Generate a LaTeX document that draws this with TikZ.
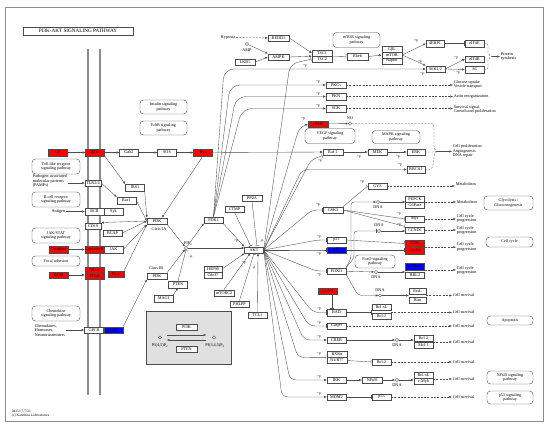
\documentclass[tikz,border=0pt]{standalone}
\usepackage{fontspec}
\setmainfont{Liberation Serif}
\usetikzlibrary{arrows.meta,calc}
\newcommand\kgfont{\fontsize{4.2}{4.6}\selectfont}
\newcommand\kpwfont{\fontsize{4.1}{4.5}\selectfont}
\newcommand\klfont{\fontsize{4.2}{4.5}\selectfont}
\newcommand\kppfont{\fontsize{3.6}{3.8}\selectfont}
\newcommand\kttfont{\fontsize{5.2}{5.2}\selectfont}
\tikzset{
  g/.style={draw=black!70, line width=0.35pt, fill=white, minimum width=19pt, minimum height=6.5pt, inner sep=0pt, font=\kgfont},
  gr/.style={g, fill=red},
  gb/.style={g, fill=blue},
  pw/.style={draw=black!70, line width=0.4pt, rounded corners=3.5pt, fill=white, minimum width=47pt, minimum height=14pt, inner sep=0pt, align=center, font=\kpwfont},
  lbl/.style={font=\klfont, inner sep=0.6pt, align=left},
  pp/.style={font=\kppfont, inner sep=0pt},
  con/.style={draw=black!70, line width=0.35pt},
  ar/.style={con, -{Latex[length=2.6pt,width=2.2pt]}},
  inh/.style={con, -{Bar[width=4.5pt]}, shorten >=0.6pt},
  dl/.style={con, dash pattern=on 2pt off 1.3pt},
  da/.style={dl, -{Latex[length=2.6pt,width=2.2pt]}},
  cir/.style={circle, draw=black!70, line width=0.35pt, fill=white, minimum size=3.2pt, inner sep=0pt},
  memb/.style={draw=black!45, line width=1.5pt},
}
\begin{document}
\begin{tikzpicture}[x=1pt,y=-1pt]
\fill[white] (0,0) rectangle (550,428);
\useasboundingbox (0,0) rectangle (550,428);
\draw[black!45, line width=0.6pt] (5,7) rectangle (543,421);
\node[draw=black!70, line width=0.5pt, minimum width=110pt, minimum height=8pt, inner sep=0pt, font=\kttfont] (title) at (78,31) {PI3K-AKT SIGNALING PATHWAY};
\draw[memb] (88,49) -- (88,395);
\draw[memb] (100,49) -- (100,395);

% ---------- left: receptors ----------
\node[gr] (gf) at (57.5,152.5) {GF};
\node[gr] (rtk) at (95,152.5) {RTK};
\node[g] (gab2) at (129,152.5) {Gab2};
\node[g] (sos) at (167,152.5) {SOS};
\node[gr] (ras) at (203,152.5) {Ras};
\node[g, minimum width=16pt] (tlr) at (93,183) {TLR2/4};
\node[g] (irs1) at (135,187.5) {IRS1};
\node[g] (rac1) at (126.5,200.5) {Rac1};
\node[g] (bcr) at (94.5,211.5) {BCR};
\node[g] (syk) at (113.5,211.5) {Syk};
\node[g, minimum width=16pt] (cd19) at (93,226) {CD19};
\node[g] (bcap) at (112.5,233) {BCAP};
\node[gr] (cyt) at (58.5,249.5) {Cytokine};
\node[gr] (cytr) at (94.5,249.5) {CytokineR};
\node[g] (jak) at (113.5,249.5) {JAK};
\node[gr] (ecm) at (58.5,275) {ECM};
\node[gr, minimum height=6pt] (itga) at (94.5,270.5) {ITGA};
\node[gr, minimum height=6pt] (itgb) at (94.5,276.5) {ITGB};
\node[gr, minimum width=16pt] (fak) at (116,274) {FAK};
\node[g] (gpcr) at (94,330) {GPCR};
\node[gb] (gbg) at (113.5,330) {Gβγ};

\node[pw, minimum width=48pt, minimum height=15pt] (tollp) at (56,166.5) {Toll-like receptor\\signaling pathway};
\node[pw, minimum width=48pt, minimum height=15pt] (bcellp) at (56,199.5) {B cell receptor\\signaling pathway};
\node[pw, minimum width=48pt, minimum height=15pt] (jakp) at (56,235.5) {JAK/STAT\\signaling pathway};
\node[pw, minimum width=48pt, minimum height=10pt] (focp) at (56,261) {Focal adhesion};
\node[pw, minimum width=48pt, minimum height=15pt] (chemp) at (56,313.5) {Chemokine\\signaling pathway};
\node[pw] (insp) at (163.5,107) {Insulin signaling\\pathway};
\node[pw] (erbbp) at (163.5,128) {ErbB signaling\\pathway};

\node[lbl, anchor=west] (pamps) at (32,181) {Pathogen-associated\\molecular patterns\\(PAMPs)};
\node[lbl, anchor=east] (antigen) at (66,211.5) {Antigen};
\node[lbl, anchor=west] (chem) at (34,330.5) {Chemokines,\\Hormones,\\Neurotransmitters};
\node[lbl, anchor=west, font=\kppfont] (foot) at (11,414) {04151 7/7/21\\(c) Kanehisa Laboratories};

% ---------- top ----------
\node[lbl, anchor=east] (hyp) at (236,37.5) {Hypoxia};
\node[g, minimum width=21pt] (redd1) at (278.5,38) {REDD1};
\node[cir] (amp) at (247,44) {};
\node[lbl] (ampl) at (247,50.5) {AMP};
\node[g, minimum width=20pt] (lkb1) at (245,62) {LKB1};
\node[g, minimum width=21pt] (ampk) at (278.5,57) {AMPK};
\node[g, minimum width=20pt, minimum height=6pt] (tsc1) at (322,53) {TSC1};
\node[g, minimum width=20pt, minimum height=6pt] (tsc2) at (322,59) {TSC2};
\node[g, minimum width=21pt] (rheb) at (357.5,56.5) {Rheb};
\node[pw, minimum height=15pt] (mtorp) at (356.5,40) {mTOR signaling\\pathway};
\node[g, minimum width=20pt, minimum height=6pt] (gbl) at (392,49) {GβL};
\node[g, minimum width=20pt, minimum height=6pt] (mtor) at (392,55) {mTOR};
\node[g, minimum width=20pt, minimum height=6pt] (raptor) at (392,61) {Raptor};
\node[g, minimum width=18pt] (ebp) at (435,43.5) {4EBP1};
\node[g] (eif4e) at (474.5,43.5) {eIF4E};
\node[g] (eif4b) at (474.5,59) {eIF4B};
\node[g] (s6) at (474.5,69.5) {S6};
\node[g] (s6k) at (435.5,69) {S6K1/2};
\node[lbl, anchor=west] (protsyn) at (500,56.5) {Protein\\synthesis};
\coordinate (bt) at (492,56.5);

\node[g, minimum width=20pt] (pkc) at (336,85) {PKCs};
\node[g, minimum width=20pt] (pkn) at (336,96.5) {PKN};
\node[g, minimum width=20pt] (sgk) at (336,108.5) {SGK};
\node[lbl, anchor=west] (glu) at (453,84.5) {Glucose uptake\\Vesicle transport};
\node[lbl, anchor=west] (actin) at (453,96.5) {Actin reorganization};
\node[lbl, anchor=west] (survs) at (453,109.5) {Survival signal,\\Growth and proliferation};

\node[gr, minimum width=20pt] (enos) at (318,124) {eNOS};
\node[cir] (no) at (350,123.5) {};
\node[lbl] (nol) at (350,118.5) {NO};
\node[pw, minimum width=50pt, minimum height=15pt] (vegfp) at (330,136) {VEGF signaling\\pathway};
\node[pw, minimum width=48pt, minimum height=13pt] (mapkp) at (396,137) {MAPK signaling\\pathway};

\node[g, minimum width=20pt] (raf) at (333,152) {Raf-1};
\node[g] (mek) at (377.5,152) {MEK};
\node[g, minimum width=18pt] (erk) at (416,152) {ERK};
\node[g, minimum width=18pt] (brca) at (416,169.5) {BRCA1};
\node[lbl, anchor=west] (cellpro) at (452,151) {Cell proliferation\\Angiogenesis\\DNA repair};
\coordinate (bt2) at (437,151.5);

\node[g] (gys) at (377.5,186) {GYS};
\node[lbl, anchor=west] (met1) at (455,184.5) {Metabolism};
\node[g, minimum width=20pt] (gsk3) at (333,210) {GSK3};
\node[cir] (dna1) at (378,202) {};
\node[lbl] (dna1l) at (378,207.5) {DNA};
\node[g, minimum height=6pt] (pepck) at (415,199) {PEPCK};
\node[g, minimum height=6pt] (g6p) at (415,205) {G6Pase};
\node[lbl, anchor=west] (met2) at (456,202) {Metabolism};
\node[g] (myc) at (415,219) {Myc};
\node[g] (ccnd1) at (415,230) {CCND1};
\node[cir] (dna2) at (379,231) {};
\node[lbl] (dna2l) at (379,225.5) {DNA};
\node[gr, minimum height=7pt] (cdk) at (415,243.5) {CDK};
\node[gr, minimum height=7pt] (cyclin) at (415,250.5) {Cyclin};
\node[gb] (p27k) at (415,266.5) {p27Kip1};
\node[g, minimum height=6pt] (rbl2) at (415,275.5) {RBL2};
\node[lbl, anchor=west] (cc1) at (456,218.5) {Cell cycle\\progression};
\node[lbl, anchor=west] (cc2) at (456,230.5) {Cell cycle\\progression};
\node[lbl, anchor=west] (cc3) at (456,247) {Cell cycle\\progression};
\node[lbl, anchor=west] (cc4) at (456,270.5) {Cell cycle\\progression};
\node[g] (p21) at (336.5,240) {p21};
\node[gb] (p27) at (336.5,250) {p27};
\node[g] (foxo) at (336.5,271) {FOXO};
\node[pw, minimum width=40pt, minimum height=13pt] (foxop) at (375,261.5) {FoxO signaling\\pathway};
\node[cir] (dna3) at (376,272) {};
\node[lbl] (dna3l) at (376,277.5) {DNA};

\node[gr] (x1433) at (327.5,291) {14-3-3};
\node[cir] (dna4) at (380,295.5) {};
\node[lbl] (dna4l) at (380,290) {DNA};
\node[g, minimum width=17pt, minimum height=6pt] (fasl) at (417.5,291) {FasL};
\node[g, minimum width=17pt, minimum height=6pt] (bim) at (417.5,300) {Bim};
\node[g] (bad) at (336.5,312.5) {BAD};
\node[g, minimum height=6pt] (bclxl1) at (381.5,307) {Bcl-xL};
\node[g, minimum height=6pt] (bcl2a) at (381.5,316) {Bcl-2};
\node[g] (casp9) at (336.5,326) {Casp9};
\node[g] (creb) at (336.5,340) {CREB};
\node[cir] (dna5) at (397,340) {};
\node[lbl] (dna5l) at (397,345.5) {DNA};
\node[g, minimum height=6pt] (bcl2b) at (423.5,338) {Bcl-2};
\node[g, minimum height=6pt] (mcl1) at (423.5,345) {Mcl-1};
\node[g, minimum width=20pt, minimum height=6pt] (rxra) at (337,354.5) {RXRα};
\node[g, minimum width=20pt, minimum height=6pt] (nur77) at (337,360.5) {NUR77};
\node[g] (bcl2c) at (381.5,362) {Bcl-2};
\node[g] (ikk) at (336.5,380) {IKK};
\node[g, minimum width=20pt] (nfkb) at (372,380) {NFκB};
\node[cir] (dna6) at (397,380) {};
\node[lbl] (dna6l) at (397,385.5) {DNA};
\node[g, minimum height=6pt] (bclxl2) at (423.5,375.5) {Bcl-xL};
\node[g, minimum height=6pt] (cmyb) at (423.5,381.5) {c-Myb};
\node[g] (mdm2) at (336.5,397) {MDM2};
\node[g] (p53) at (381.5,397) {p53};
\node[lbl, anchor=west] (cs1) at (452,295.5) {Cell survival};
\node[lbl, anchor=west] (cs2) at (452,312.5) {Cell survival};
\node[lbl, anchor=west] (cs3) at (452,326) {Cell survival};
\node[lbl, anchor=west] (cs4) at (452,342) {Cell survival};
\node[lbl, anchor=west] (cs5) at (452,362) {Cell survival};
\node[lbl, anchor=west] (cs6) at (452,379) {Cell survival};
\node[lbl, anchor=west] (cs7) at (452,397) {Cell survival};

\node[pw, minimum width=49pt] (glyp) at (508.5,203) {Glycolysis /\\Gluconeogenesis};
\node[pw, minimum height=10pt] (ccp) at (509.5,242) {Cell cycle};
\node[pw, minimum width=46pt, minimum height=9pt] (apop) at (510,320.5) {Apoptosis};
\node[pw, minimum width=46pt, minimum height=13pt] (nfkbp) at (510,377.5) {NFκB signaling\\pathway};
\node[pw, minimum width=46pt, minimum height=13pt] (p53p) at (510,397.5) {p53 signaling\\pathway};

% ---------- middle ----------
\node[g, minimum width=20pt] (pi3ka) at (157,221) {PI3K};
\node[lbl] (cla) at (159,229) {Class IA};
\node[g] (pdk1) at (213.5,220) {PDK1};
\node[cir] (pip3) at (186,248) {};
\node[lbl] (pip3l) at (188,243.5) {PIP\textsubscript{3}};
\node[g] (akt) at (254,250) {AKT};
\node[g] (ctmp) at (234.5,209) {CTMP};
\node[g, minimum width=20pt] (pp2a) at (252,198) {PP2A};
\node[lbl] (clb) at (156,268) {Class IB};
\node[g, minimum width=20pt] (pi3kb) at (157,276) {PI3K};
\node[g, minimum width=18pt, minimum height=6pt] (hsp90) at (213,269) {HSP90};
\node[g, minimum width=18pt, minimum height=6pt] (cdc37) at (213,275) {Cdc37};
\node[g] (pten) at (178,284.5) {PTEN};
\node[g] (magi) at (163.5,298.5) {MAGI};
\node[g, minimum width=20pt] (mtorc2) at (224,293) {mTORC2};
\node[g] (phlpp) at (239.5,304) {PHLPP};
\node[g] (tcl1) at (257.5,315) {TCL1};

\node[draw=black!70, fill=black!12, line width=0.5pt, minimum width=85pt, minimum height=53pt, inner sep=0pt] (gbox) at (188.5,337.5) {};
\node[g, minimum width=21pt] (pi3kg) at (186.5,327) {PI3K};
\node[g, minimum width=21pt] (pteng) at (186.5,349) {PTEN};
\node[cir] (pip2c) at (160,337.5) {};
\node[cir] (pip3c) at (214,337.5) {};
\node[lbl] (pip2l) at (160,345.5) {PI(4,5)P\textsubscript{2}};
\node[lbl] (pip3cl) at (215,345.5) {PI(3,4,5)P\textsubscript{3}};
\draw[ar] ([xshift=5pt,yshift=2.5pt]pip2c.east) -- ([xshift=-6pt,yshift=2.5pt]pip3c.west);
\draw[ar] ([xshift=-6pt,yshift=-2.5pt]pip3c.west) -- ([xshift=5pt,yshift=-2.5pt]pip2c.east);

% ---------- connectors: left ----------
\draw[ar] (gf) -- (rtk);
\draw[ar] (rtk) -- (gab2);
\draw[ar] (gab2) -- (sos);
\draw[ar] (sos) -- (ras);
\draw[ar] (rtk.south east) -- (irs1.north west);
\draw[ar] (pamps.east |- tlr.west) -- (tlr.west);
\draw[ar] (tlr.east) -- (rac1.north west);
\draw[ar] (antigen) -- (bcr);
\draw[ar] (cyt) -- (cytr);
\draw[ar] (ecm) -- (ecm -| itgb.west);
\draw[ar] (chem.east |- gpcr.west) -- (gpcr.west);
\draw[ar] (pi3ka.west) -- (cd19.north east);
\draw[ar] (irs1.south east) -- (pi3ka.north west);
\draw[ar] (rac1.east) -- (pi3ka.west);
\draw[ar] (bcap.east) -- (pi3ka.west);
\draw[ar] (jak.east) -- (pi3ka.south west);
\draw[ar] (fak.north east) -- (pi3ka.south west);
\draw[ar] (ras.south) -- ($(pi3ka.north)+(5,0)$);
\draw[ar] (gbg.north east) -- (pi3kb.south west);
\draw[ar] (pi3ka.south east) -- (pip3);
\draw[ar] (pi3kb.north east) -- (pip3);
\draw[ar] (pip3) -- (pdk1.south west);
\draw[ar] (pip3) -- (pip3 -| akt.west);
\draw[inh] (pten.north) -- (pip3.south);
\draw[ar] (magi.north east) -- (pten.south);
\draw[ar] (pdk1.south east) -- (akt.north west);
\draw[inh] (ctmp.south) -- ($(akt.north)+(-3,0)$);
\draw[inh] (pp2a.south) -- ($(akt.north)+(3,0)$);
\draw[ar] (hsp90.east) -- (akt.south west);
\draw[ar] (mtorc2.north) -- ($(akt.south)+(-4,0)$);
\draw[inh] (phlpp.north) -- ($(akt.south)+(0,0)$);
\draw[ar] (tcl1.north) -- ($(akt.south)+(4,0)$);
\node[pp] (q1) at (236,241) {+p};
\node[pp] (q2) at (262,241) {-p};
\node[pp] (q3) at (244,263) {+p};
\node[pp] (q4) at (254,268) {-p};
\node[pp] (q5) at (191,257) {-p};

% ---------- connectors: top ----------
\draw[da] (hyp) -- (redd1);
\draw[ar] (amp) -- (ampk.north west);
\draw[ar] (lkb1.east) -- (ampk.west);
\draw[ar] (redd1.east) -- (tsc1.west);
\draw[ar] (ampk.east) -- (tsc1.south west);
\draw[inh] (tsc1.south east) -- (rheb.west);
\draw[ar] (rheb.east) -- (mtor.west);
\draw[ar] (mtor.east) -- (ebp.west);
\draw[ar] (mtor.east) -- (s6k.north west);
\draw[inh] (ebp) -- (eif4e);
\draw[ar] (s6k.east) -- (eif4b.west);
\draw[ar] (s6k.east) -- (s6.west);
\draw[dl, rounded corners=2pt] (eif4e.east) -- (488,43.5) -- (488,54.5) -- (bt);
\draw[dl, rounded corners=2pt] (s6.east) -- (488,69.5) -- (488,58.5) -- (bt);
\draw[ar] (bt) -- (protsyn.west);
\node[pp] (q6) at (305,66) {+p};
\node[pp] (q7) at (416,41) {+p};
\node[pp] (q8) at (420,62) {+p};
\node[pp] (q9) at (456,58) {+p};
\node[pp] (q10) at (458,73) {+p};
\node[pp] (q11) at (422,74) {+p};

\draw[ar, rounded corners=10pt] (pdk1.north) -- (224,69) -- (s6k.west);
\draw[ar, rounded corners=10pt] (pdk1.north) -- (230,85) -- (pkc.west);
\draw[ar, rounded corners=10pt] (pdk1.north) -- (236,96.5) -- (pkn.west);
\draw[ar, rounded corners=10pt] (pdk1.north) -- (242,108.5) -- (sgk.west);
\node[pp] (q12) at (318,82) {+p};
\node[pp] (q13) at (318,93.5) {+p};
\node[pp] (q14) at (318,105.5) {+p};
\draw[da] (pkc) -- (pkc -| glu.west);
\draw[da] (pkn) -- (pkn -| actin.west);
\draw[da] (sgk) -- (sgk -| survs.west);

\draw[ar] (enos) -- (no);
\draw[dl, rounded corners=3pt] (no.east) -- (434,123.5) -- (434,149.5) -- (bt2);
\draw[dl] (erk.east) -- (434,152) -- (bt2);
\draw[dl, rounded corners=3pt] (brca.east) -- (432,169.5) -- (434,160) -- (434,153.5) -- (bt2);
\draw[ar] (bt2) -- (cellpro.west |- bt2);
\draw[ar] (ras) -- (raf);
\draw[ar] (raf) -- (mek);
\draw[ar] (mek) -- (erk);
\node[pp] (q15) at (359,157) {+p};
\node[pp] (q16) at (398,157) {+p};

% ---------- AKT targets ----------
\draw[inh, rounded corners=8pt] (akt.east) -- (290,64) -- (tsc2.west);
\draw[ar, rounded corners=6pt] (akt.east) -- (299,128) -- (enos.west);
\draw[inh, rounded corners=5pt] (akt.east) -- (311,160) -- (raf.south west);
\draw[ar, rounded corners=6pt] (akt.east) -- (302,169.5) -- (brca.west);
\draw[inh, rounded corners=5pt] (akt.east) -- (312,210) -- (gsk3.west);
\draw[inh, rounded corners=4pt] (akt.east) -- (318,240) -- (p21.west);
\draw[inh, rounded corners=4pt] (akt.east) -- (318,250) -- (p27.west);
\draw[inh, rounded corners=4pt] (akt.east) -- (316,271) -- (foxo.west);
\draw[inh, rounded corners=6pt] (akt.east) -- (313,312.5) -- (bad.west);
\draw[inh, rounded corners=6pt] (akt.east) -- (309,326) -- (casp9.west);
\draw[ar, rounded corners=6pt] (akt.east) -- (304,340) -- (creb.west);
\draw[inh, rounded corners=6pt] (akt.east) -- (298,357.5) -- (nur77.north west);
\draw[ar, rounded corners=6pt] (akt.east) -- (290,380) -- (ikk.west);
\draw[ar, rounded corners=6pt] (akt.east) -- (282,397) -- (mdm2.west);
\node[pp] (q17) at (303,119) {+p};
\node[pp] (q18) at (320,161) {+p};
\node[pp] (q19) at (400,165) {+p};
\node[pp] (q20) at (318,205) {+p};
\node[pp] (q21) at (319,237) {+p};
\node[pp] (q22) at (319,254) {+p};
\node[pp] (q23) at (319,275) {+p};
\node[pp] (q24) at (319,309) {+p};
\node[pp] (q25) at (319,323) {+p};
\node[pp] (q26) at (319,337) {+p};
\node[pp] (q27) at (319,354) {+p};
\node[pp] (q28) at (319,377) {+p};
\node[pp] (q29) at (319,394) {+p};

\draw[inh] (gsk3.north east) -- (gys.west);
\draw[inh] (gsk3.east) -- (myc.west);
\draw[inh] (gsk3.east) -- (ccnd1.north west);
\node[pp] (q30) at (362,182) {+p};
\node[pp] (q31) at (399,214) {+p};
\node[pp] (q32) at (399,225) {+p};
\draw[da] (gys) -- (gys -| met1.west);
\draw[ar] (dna1) -- (dna1 -| pepck.west);
\draw[da] (dna1 -| pepck.east) -- (dna1 -| met2.west);
\draw[ar] (dna2) -- (dna2 -| ccnd1.west);
\draw[da] (myc) -- (myc -| cc1.west);
\draw[da] (ccnd1) -- (ccnd1 -| cc2.west);
\draw[da] (cdk.south east) -- (cdk.south east -| cc3.west);
\draw[da] (p27k.south east) -- (p27k.south east -| cc4.west);
\draw[inh] (p21.east) -- (cdk.west);
\draw[inh] (p27.east) -- (p27 -| cyclin.west);
\draw[ar, rounded corners=3pt] (foxo.north east) -- (351,258) -- (351,202) -- (dna1);
\draw[inh, rounded corners=3pt] (foxo.north east) -- (354,258) -- (354,231) -- (dna2);
\draw[ar] (foxo) -- (dna3);
\draw[ar] (dna3) -- (dna3 -| p27k.west);

\draw[ar, rounded corners=4pt] (foxo.south east) -- (358,295.5) -- (dna4);
\draw[ar] (dna4) -- (dna4 -| fasl.west);
\draw[da] (dna4 -| fasl.east) -- (dna4 -| cs1.west);
\draw[inh] ([xshift=4.5pt]x1433.south) -- ([xshift=4.5pt]x1433.south |- bad.north);
\draw[inh] (bad) -- (bad -| bclxl1.west);
\draw[da] (bad -| bclxl1.east) -- (bad -| cs2.west);
\draw[da] (casp9) -- (casp9 -| cs3.west);
\draw[ar] (creb) -- (dna5);
\draw[ar] (dna5) -- (dna5 -| bcl2b.west);
\draw[da] (cs4.west -| bcl2b.east) -- (cs4.west);
\draw[inh] (nur77.east) -- (bcl2c.west);
\draw[da] (bcl2c) -- (bcl2c -| cs5.west);
\draw[ar] (ikk) -- (nfkb);
\draw[ar] (nfkb) -- (dna6);
\draw[ar] (dna6) -- (dna6 -| bclxl2.west);
\draw[da] (cs6.west -| bclxl2.east) -- (cs6.west);
\draw[inh] (mdm2) -- (p53);
\draw[da] (p53) -- (p53 -| cs7.west);
\end{tikzpicture}
\end{document}
